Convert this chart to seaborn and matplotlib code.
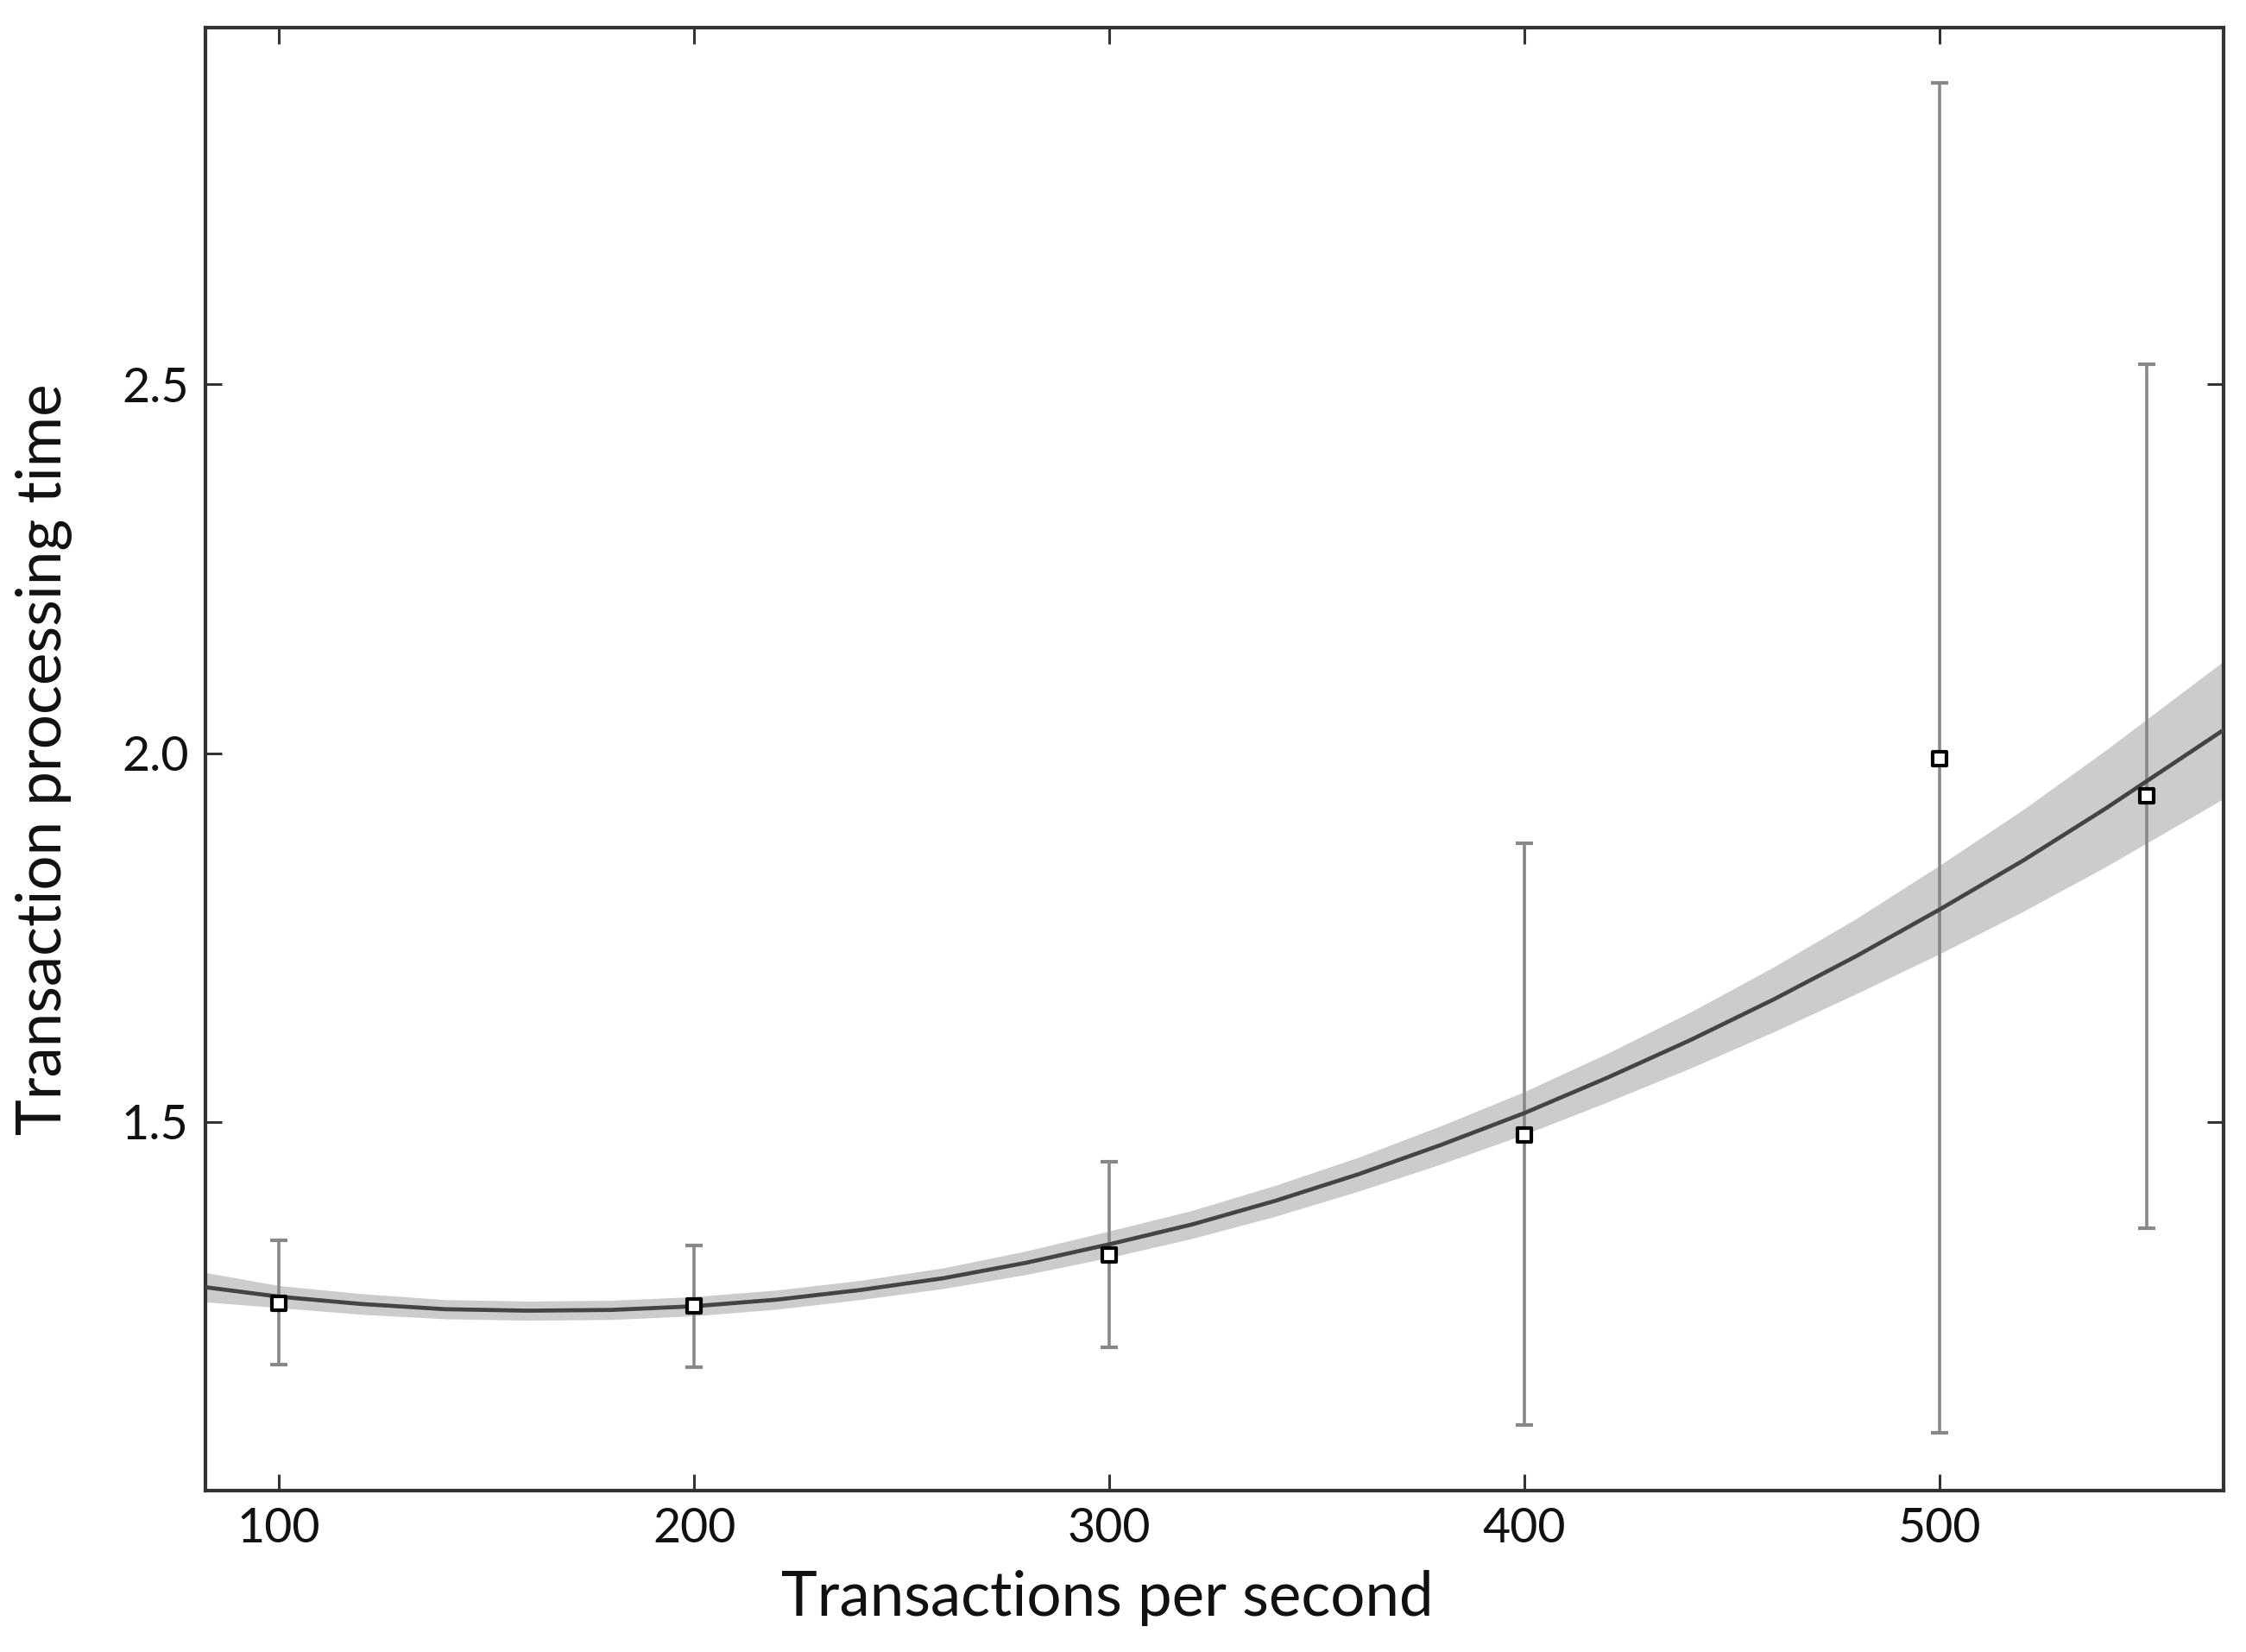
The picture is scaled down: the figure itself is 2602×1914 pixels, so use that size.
import numpy as np
import pandas as pd
import seaborn as sns
import matplotlib.pyplot as plt

# measured points (mean and error bar ends)
tps = [100, 200, 300, 400, 500, 550]
proc_mean = [1.254, 1.250, 1.320, 1.482, 1.993, 1.942]
proc_low = [1.171, 1.167, 1.194, 1.089, 1.078, 1.356]
proc_high = [1.339, 1.333, 1.446, 1.878, 2.909, 2.527]

# quadratic fit curve and half width of its confidence band
fit_x = [82, 100, 120, 140, 160, 180, 200, 220, 240, 260, 280, 300, 320,
         340, 360, 380, 400, 420, 440, 460, 480, 500, 520, 540, 568]
fit_y = [1.276, 1.263, 1.253, 1.246, 1.244, 1.245, 1.250, 1.259, 1.272, 1.288, 1.309, 1.334, 1.361,
         1.393, 1.429, 1.469, 1.512, 1.560, 1.611, 1.666, 1.725, 1.788, 1.854, 1.925, 2.030]
fit_ci = [0.020, 0.015, 0.014, 0.013, 0.013, 0.013, 0.013, 0.013, 0.013, 0.014, 0.016, 0.018, 0.019,
          0.021, 0.023, 0.026, 0.029, 0.033, 0.038, 0.044, 0.051, 0.060, 0.069, 0.079, 0.093]

xticks = [100, 200, 300, 400, 500]
yticks = [1.5, 2.0, 2.5]

sns.set_theme(style='ticks')
plt.rcParams['font.family'] = ['Lato', 'DejaVu Sans']

points = pd.DataFrame({'tps': tps, 'mean': proc_mean, 'low': proc_low, 'high': proc_high})
fit = pd.DataFrame({'x': fit_x, 'y': fit_y, 'ci': fit_ci})

fig = plt.figure(figsize=(26.02, 19.14), dpi=100)
ax = fig.add_axes([0.0915, 0.0977, 0.8985, 0.8856])

ax.fill_between(fit['x'], fit['y'] - fit['ci'], fit['y'] + fit['ci'],
                color='#cccccc', lw=0, zorder=1)

yerr = [points['mean'] - points['low'], points['high'] - points['mean']]
ax.errorbar(points['tps'], points['mean'], yerr=yerr, fmt='none', ecolor='#888888',
            elinewidth=2.6, capsize=7, capthick=3, zorder=2)

sns.lineplot(data=fit, x='x', y='y', color='#444444', lw=3.4, ax=ax, zorder=3)

sns.scatterplot(data=points, x='tps', y='mean', marker='s', s=144, color='white',
                edgecolor='black', linewidth=3, ax=ax, zorder=4)

ax.set_xlim(82.3, 568.4)
ax.set_ylim(1.0, 2.984)
ax.set_xticks(xticks)
ax.set_yticks(yticks)
ax.tick_params(direction='in', length=14, width=2.2, colors='#333333',
               labelsize=40, labelcolor='#111111', top=True, right=True, pad=14)

for side in ['left', 'right', 'top', 'bottom']:
    ax.spines[side].set_visible(True)
    ax.spines[side].set_color('#333333')
    ax.spines[side].set_linewidth(3)

ax.set_xlabel('Transactions per second', fontsize=51, color='#111111')
ax.set_ylabel('Transaction processing time', fontsize=51, color='#111111')
ax.xaxis.set_label_coords(0.447, -0.054)
ax.yaxis.set_label_coords(-0.066, 0.5)

fig.savefig('out.png', dpi=100, facecolor='white')
